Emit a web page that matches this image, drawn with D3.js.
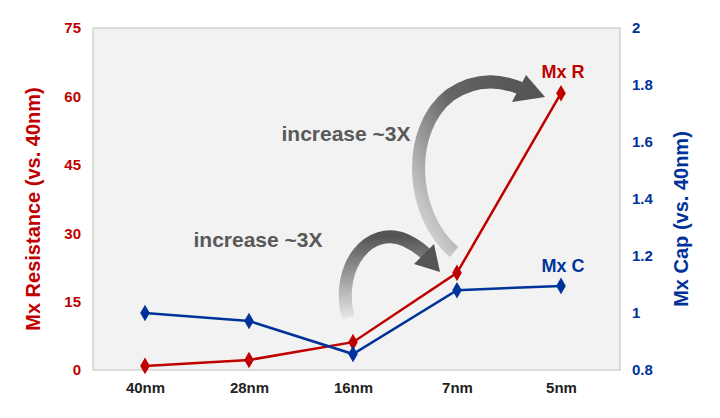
<!DOCTYPE html><html><head><script src="https://cdn.jsdelivr.net/npm/d3@7"></script>
<style>body{margin:0;background:#fff}text{font-family:Arial,"Liberation Sans",sans-serif;font-weight:bold}</style></head><body><svg width="720" height="418"></svg>
<script>
const categories=["40nm","28nm","16nm","7nm","5nm"];
const resistance=[0.9,2.2,6.1,21.3,60.7];
const capacitance=[1.0,0.972,0.856,1.08,1.095];
const leftTicks=[0,15,30,45,60,75];
const rightTicks=[0.8,1,1.2,1.4,1.6,1.8,2];
const svg=d3.select("svg");
const L=93,R=620,T=28,B=370;
const red="#c00000",blue="#003399";
svg.append("rect").attr("x",L).attr("y",T).attr("width",R-L).attr("height",B-T).attr("fill","#f2f2f2").attr("stroke","#bfbfbf");
const x=d3.scalePoint().domain(categories).range([L,613]).padding(0.5);
const yL=d3.scaleLinear().domain([0,75]).range([B,T]);
const yR=d3.scaleLinear().domain([0.8,2]).range([B,T]);
const ax=svg.append("g").attr("transform",`translate(0,${B})`).call(d3.axisBottom(x).tickSize(0).tickPadding(12));
ax.select(".domain").remove();ax.selectAll("text").attr("font-size",15).attr("fill","#222");
const al=svg.append("g").attr("transform",`translate(${L},0)`).call(d3.axisLeft(yL).tickValues(leftTicks).tickSize(0).tickPadding(12));
al.select(".domain").remove();al.selectAll("text").attr("font-size",15).attr("fill",red).attr("font-weight","normal");
const ar=svg.append("g").attr("transform",`translate(${R},0)`).call(d3.axisRight(yR).tickValues(rightTicks).tickFormat(d3.format("~g")).tickSize(0).tickPadding(12));
ar.select(".domain").remove();ar.selectAll("text").attr("font-size",15).attr("fill",blue).attr("font-weight","normal");
svg.append("text").attr("transform",`translate(40,${(T+B)/2+10}) rotate(-90)`).attr("text-anchor","middle").attr("font-size",20).attr("fill",red).text("Mx Resistance (vs. 40nm)");
svg.append("text").attr("transform",`translate(688,${(T+B)/2+20}) rotate(-90)`).attr("text-anchor","middle").attr("font-size",20).attr("fill",blue).text("Mx  Cap (vs. 40nm)");
const defs=svg.append("defs");
const g=defs.append("linearGradient").attr("id","gr").attr("x1",0).attr("y1",1).attr("x2",0).attr("y2",0);
g.append("stop").attr("offset","0%").attr("stop-color","#e6e6e6");g.append("stop").attr("offset","100%").attr("stop-color","#555");
const g2=defs.append("linearGradient").attr("id","gr2").attr("x1",0).attr("y1",1).attr("x2",1).attr("y2",0);
g2.append("stop").attr("offset","0%").attr("stop-color","#e6e6e6");g2.append("stop").attr("offset","60%").attr("stop-color","#666");g2.append("stop").attr("offset","100%").attr("stop-color","#555");
function arrow(d,head,grad){svg.append("path").attr("d",d).attr("fill","none").attr("stroke",`url(#${grad})`).attr("stroke-width",13);
svg.append("path").attr("d",head).attr("fill","#555");}
arrow("M348,318 C335,265 370,225 405,240 C418,246 424,252 428,256","M414,264 L440,272 L434,244 Z","gr");
arrow("M454,252 C410,215 405,130 450,95 C475,78 500,80 520,88","M512,102 L545,97 L526,75 Z","gr2");
const lineR=d3.line().x((d,i)=>x(categories[i])).y(d=>yL(d));
const lineC=d3.line().x((d,i)=>x(categories[i])).y(d=>yR(d));
svg.append("path").attr("d",lineR(resistance)).attr("fill","none").attr("stroke",red).attr("stroke-width",2.5);
svg.append("path").attr("d",lineC(capacitance)).attr("fill","none").attr("stroke",blue).attr("stroke-width",2.5);
const dia=d3.symbol().type(d3.symbolDiamond).size(80);
svg.selectAll(".mr").data(resistance).join("path").attr("d",dia).attr("fill",red).attr("transform",(d,i)=>`translate(${x(categories[i])},${yL(d)})`);
svg.selectAll(".mc").data(capacitance).join("path").attr("d",dia).attr("fill",blue).attr("transform",(d,i)=>`translate(${x(categories[i])},${yR(d)})`);
svg.append("text").attr("x",563).attr("y",78).attr("text-anchor","middle").attr("font-size",18).attr("fill",red).text("Mx R");
svg.append("text").attr("x",563).attr("y",272).attr("text-anchor","middle").attr("font-size",18).attr("fill",blue).text("Mx C");
svg.append("text").attr("x",346).attr("y",141).attr("text-anchor","middle").attr("font-size",21).attr("fill","#595959").text("increase ~3X");
svg.append("text").attr("x",258).attr("y",247).attr("text-anchor","middle").attr("font-size",21).attr("fill","#595959").text("increase ~3X");
</script></body></html>
